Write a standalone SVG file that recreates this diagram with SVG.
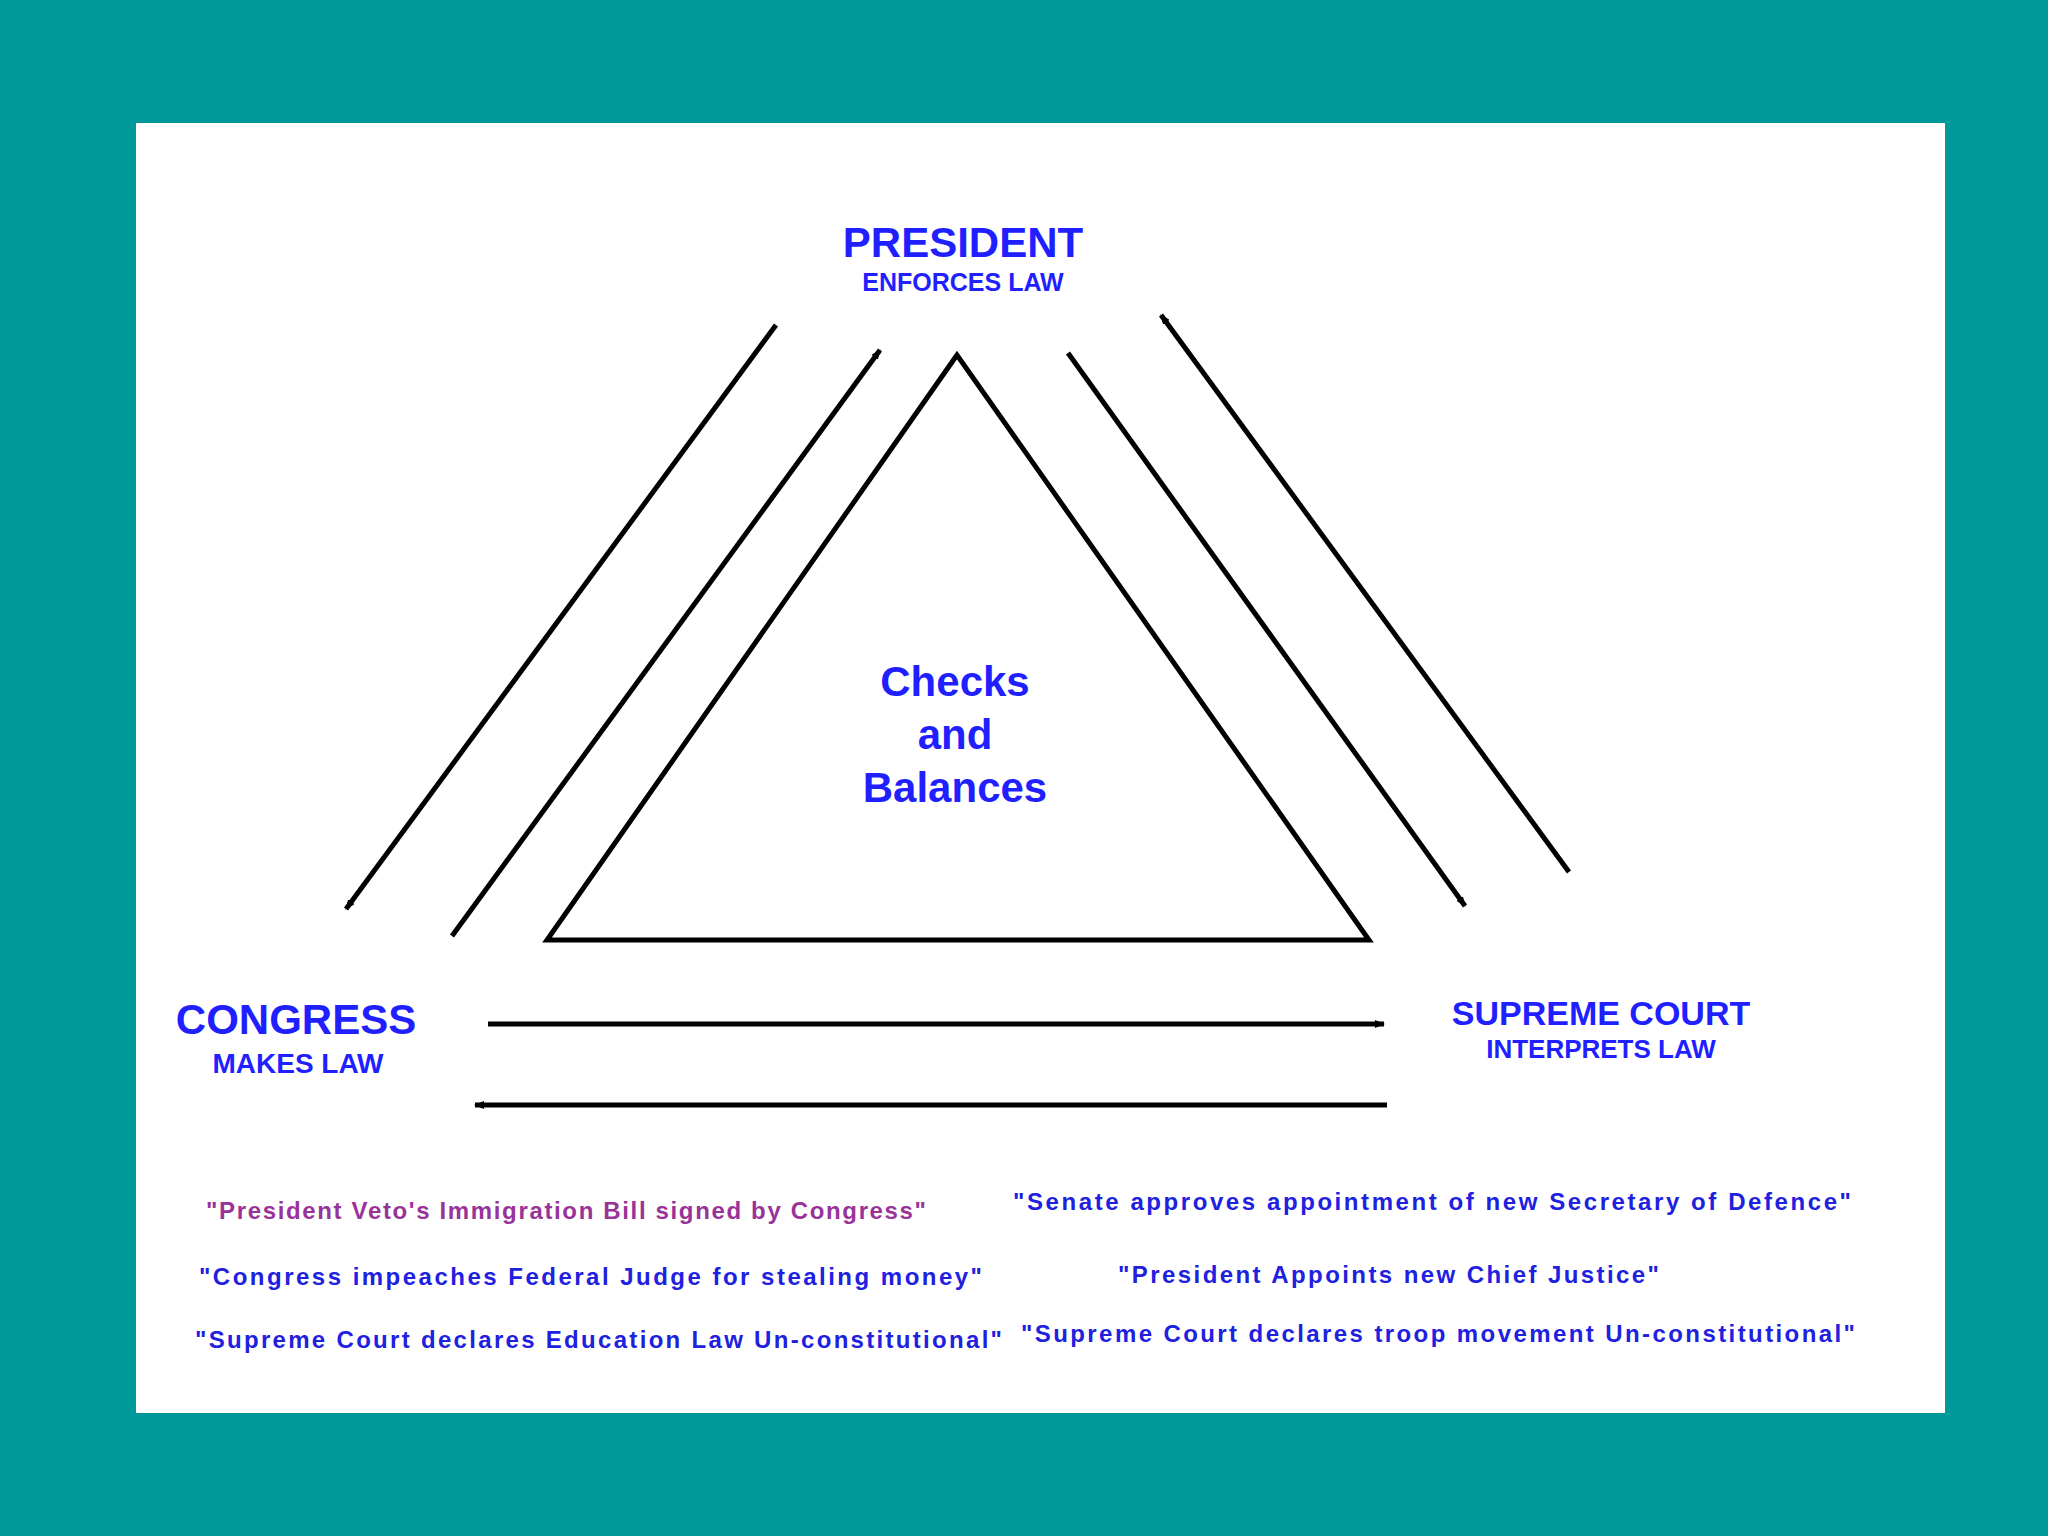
<svg xmlns="http://www.w3.org/2000/svg" width="2048" height="1536" viewBox="0 0 2048 1536">
<defs>
<marker id="ah" markerWidth="10" markerHeight="8" refX="9" refY="4" orient="auto" markerUnits="userSpaceOnUse"><path d="M0,0 L10,4 L0,8 Z" fill="#000"/></marker>
<style>
.t{font-family:"Liberation Sans",Arial,sans-serif;font-weight:bold;fill:#1f1fff;text-anchor:middle}
.q{font-family:"Liberation Sans",Arial,sans-serif;font-weight:bold;fill:#2020e0;font-size:24px}
.c line{stroke:#000;stroke-width:5;marker-end:url(#ah)}
</style>
</defs>
<rect width="2048" height="1536" fill="#009999"/>
<rect x="136" y="123" width="1809" height="1290" fill="#fff"/>
<g id="triangle"><polygon points="957,355 547,940 1369,940" fill="none" stroke="#000" stroke-width="5"/></g>
<g id="president"><text class="t" x="963" y="257" font-size="42">PRESIDENT</text><text class="t" x="963" y="291" font-size="25">ENFORCES LAW</text></g>
<g id="congress"><text class="t" x="296" y="1034" font-size="42">CONGRESS</text><text class="t" x="298" y="1073" font-size="28">MAKES LAW</text></g>
<g id="court"><text class="t" x="1601" y="1025" font-size="34">SUPREME COURT</text><text class="t" x="1601" y="1058" font-size="26">INTERPRETS LAW</text></g>
<g id="center"><text class="t" x="955" y="696" font-size="42">Checks</text><text class="t" x="955" y="749" font-size="42">and</text><text class="t" x="955" y="802" font-size="42">Balances</text></g>
<g id="connectors" class="c">
<line x1="776" y1="325" x2="346" y2="909"/>
<line x1="452" y1="936" x2="880" y2="350"/>
<line x1="1068" y1="353" x2="1465" y2="906"/>
<line x1="1569" y1="872" x2="1161" y2="315"/>
<line x1="488" y1="1024" x2="1384" y2="1024"/>
<line x1="1387" y1="1105" x2="475" y2="1105"/>
</g>
<g id="quotes">
<text class="q" x="206" y="1219" textLength="720" style="fill:#993399">"President Veto's Immigration Bill signed by Congress"</text>
<text class="q" x="199" y="1285" textLength="783">"Congress impeaches Federal Judge for stealing money"</text>
<text class="q" x="195" y="1348" textLength="807">"Supreme Court declares Education Law Un-constitutional"</text>
<text class="q" x="1013" y="1210" textLength="838">"Senate approves appointment of new Secretary of Defence"</text>
<text class="q" x="1118" y="1283" textLength="541">"President Appoints new Chief Justice"</text>
<text class="q" x="1021" y="1342" textLength="834">"Supreme Court declares troop movement Un-constitutional"</text>
</g>
</svg>
